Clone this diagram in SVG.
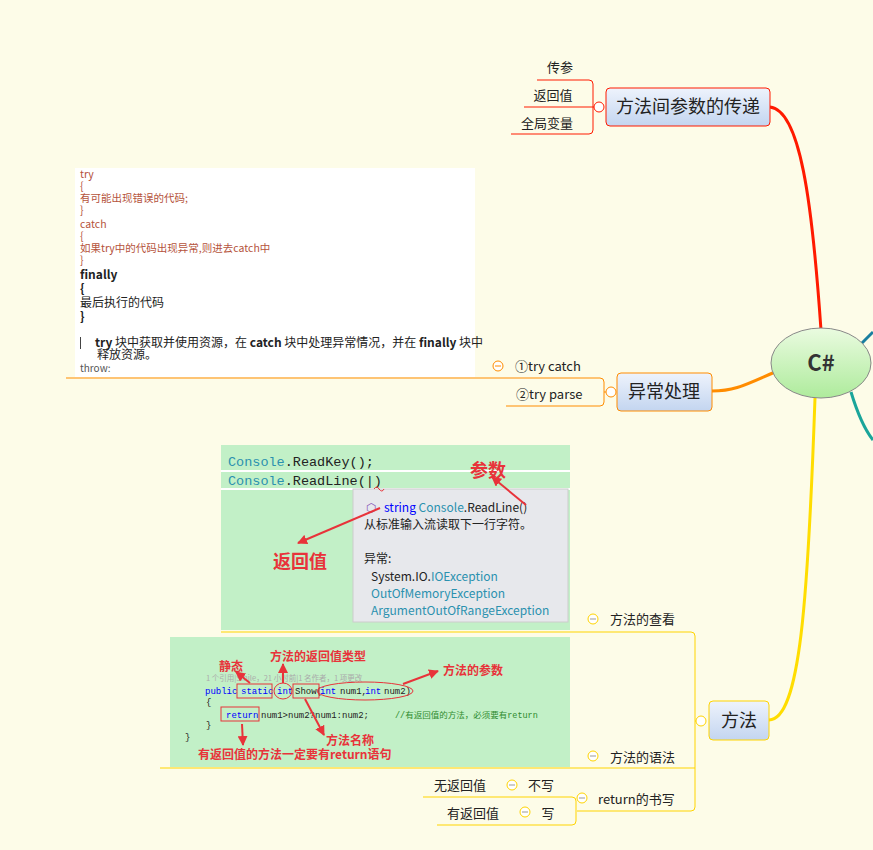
<svg xmlns="http://www.w3.org/2000/svg" width="873" height="850" viewBox="0 0 873 850">
<defs>
<linearGradient id="gb" x1="0" y1="0" x2="0" y2="1"><stop offset="0" stop-color="#eef3fc"/><stop offset="1" stop-color="#c3d5f0"/></linearGradient>
<linearGradient id="gg" x1="0" y1="0" x2="0" y2="1"><stop offset="0" stop-color="#eafbe0"/><stop offset="1" stop-color="#aeeb9c"/></linearGradient>
<marker id="ar" viewBox="0 0 10 10" refX="9" refY="5" markerWidth="5" markerHeight="5" orient="auto"><path d="M0,0L10,5L0,10z" fill="#e8333a"/></marker>
<style>
text{font-family:"Noto Sans CJK SC","Liberation Sans",sans-serif;fill:#222}
.s{font-size:13px}
.m{font-size:18px}
.mono{font-family:"Liberation Mono","Noto Sans CJK SC",monospace}
.c{font-family:"Liberation Mono",monospace;font-size:9px}
.k{fill:#0000ff}
.red{fill:#e8333a;font-weight:bold}
.ra{stroke:#e8333a;stroke-width:2;fill:none;marker-end:url(#ar)}
.tc{font-size:10.5px;fill:#b5533c}
</style>
</defs>
<rect width="873" height="850" fill="#fdfce8"/>
<g id="connectors" fill="none">
<path d="M821,330 C812,200 800,110 770,107" stroke="#ff1a00" stroke-width="3"/>
<path d="M775,372 C745,385 735,391 712,391" stroke="#ff8c00" stroke-width="3"/>
<path d="M815,398 C808,600 800,720 769,720" stroke="#ffdd00" stroke-width="3"/>
<path d="M860,345 L873,332" stroke="#1a7fa0" stroke-width="3"/>
<path d="M851,392 C858,415 865,430 873,440" stroke="#1aa59a" stroke-width="3"/>
<path d="M537,80 H589 Q593,80 593,84 V130 Q593,134 589,134 H511 M524,107 H594" stroke="#ff1a00"/>
<path d="M66,378 H600 Q604,378 604,382 V402 Q604,406 600,406 H506 M604,392 H606" stroke="#ff8c00"/>
<path d="M221,632 H691 Q695,632 695,636 V807 Q695,811 691,811 H577 M160,768 H695 M695,721 H696" stroke="#ffd400"/>
<path d="M423,797 H572 Q576,797 576,801 V821 Q576,825 572,825 H437" stroke="#ffd400"/>
</g>
<g id="n-csharp"><ellipse cx="821" cy="363" rx="50" ry="35" fill="url(#gg)" stroke="#888"/><text x="821" y="371" text-anchor="middle" font-size="22" font-weight="bold" style="fill:#333">C#</text></g>
<g id="n-param"><rect x="606" y="88" width="164" height="38" rx="4" fill="url(#gb)" stroke="#ff1a00"/><text x="688" y="113" text-anchor="middle" class="m">方法间参数的传递</text>
<circle cx="599" cy="107" r="5" fill="#fff" stroke="#ff1a00"/>
<text x="560" y="72" text-anchor="middle" class="s">传参</text><text x="553" y="100" text-anchor="middle" class="s">返回值</text><text x="547" y="128" text-anchor="middle" class="s">全局变量</text></g>
<g id="n-exc"><rect x="617" y="373" width="95" height="38" rx="4" fill="url(#gb)" stroke="#ff8c00"/><text x="664" y="398" text-anchor="middle" class="m">异常处理</text>
<circle cx="611" cy="392" r="5" fill="#fff" stroke="#ff8c00"/>
<circle cx="498" cy="366" r="5" fill="#fff" stroke="#ff8c00"/><line x1="495" y1="366" x2="501" y2="366" stroke="#ff8c00"/>
<text x="515" y="371" class="s">①try catch</text><text x="516" y="399" class="s">②try parse</text></g>
<g id="img-try"><rect x="75" y="168" width="400" height="209" fill="#fff"/>
<text x="80" y="178" class="tc">try</text><text x="80" y="190" class="tc">{</text><text x="80" y="202" class="tc">有可能出现错误的代码;</text><text x="80" y="214" class="tc">}</text><text x="80" y="228" class="tc">catch</text><text x="80" y="240" class="tc">{</text><text x="80" y="252" class="tc">如果try中的代码出现异常,则进去catch中</text><text x="80" y="264" class="tc">}</text>
<text x="80" y="279" font-size="12" font-weight="bold">finally</text><text x="80" y="293" font-size="12" font-weight="bold">{</text><text x="80" y="307" font-size="12">最后执行的代码</text><text x="80" y="321" font-size="12" font-weight="bold">}</text>
<rect x="80" y="337" width="1" height="12" fill="#444"/>
<text x="95" y="347" font-size="12"><tspan font-weight="bold">try</tspan> 块中获取并使用资源，在 <tspan font-weight="bold">catch</tspan> 块中处理异常情况，并在 <tspan font-weight="bold">finally</tspan> 块中</text>
<text x="97" y="359" font-size="12">释放资源。</text><text x="80" y="372" font-size="10" style="fill:#555">throw:</text></g>
<g id="n-method"><rect x="709" y="701" width="60" height="39" rx="4" fill="url(#gb)" stroke="#ffd400"/><text x="739" y="727" text-anchor="middle" class="m">方法</text>
<circle cx="701" cy="721" r="5" fill="#fff" stroke="#ffd400"/>
<circle cx="593" cy="619" r="5" fill="#fff" stroke="#ffd400"/><line x1="590" y1="619" x2="596" y2="619" stroke="#999"/><text x="610" y="624" class="s">方法的查看</text>
<circle cx="593" cy="756" r="5" fill="#fff" stroke="#ffd400"/><line x1="590" y1="756" x2="596" y2="756" stroke="#999"/><text x="610" y="762" class="s">方法的语法</text>
<circle cx="582" cy="798" r="5" fill="#fff" stroke="#ffd400"/><line x1="579" y1="798" x2="585" y2="798" stroke="#999"/><text x="598" y="804" class="s">return的书写</text>
<text x="460" y="790" text-anchor="middle" class="s">无返回值</text><circle cx="512" cy="785" r="5" fill="#fff" stroke="#ffd400"/><line x1="509" y1="785" x2="515" y2="785" stroke="#999"/><text x="541" y="790" text-anchor="middle" class="s">不写</text>
<text x="473" y="818" text-anchor="middle" class="s">有返回值</text><circle cx="525" cy="812" r="5" fill="#fff" stroke="#ffd400"/><line x1="522" y1="812" x2="528" y2="812" stroke="#999"/><text x="548" y="818" text-anchor="middle" class="s">写</text></g>
<g id="img-console"><rect x="221" y="445" width="349" height="185" fill="#c2f0c7"/>
<rect x="221" y="470" width="349" height="2" fill="#fff"/><rect x="221" y="488" width="349" height="2" fill="#fff"/>
<text x="228" y="466" class="mono" font-size="13.5" style="fill:#2b91af">Console<tspan style="fill:#222">.ReadKey();</tspan></text>
<text x="228" y="485" class="mono" font-size="13.5" style="fill:#2b91af">Console<tspan style="fill:#222">.ReadLine(|)</tspan></text>
<rect x="353" y="489" width="215" height="133" fill="#e7e8ec" stroke="#ccc"/>
<text x="366" y="512" font-size="12" style="fill:#8a58b8">⬡</text>
<text x="384" y="512" font-size="12" style="fill:#0000ff">string <tspan style="fill:#2b91af">Console</tspan><tspan style="fill:#222">.ReadLine()</tspan></text>
<text x="364" y="529" font-size="12">从标准输入流读取下一行字符。</text>
<text x="364" y="563" font-size="12">异常:</text>
<text x="371" y="581" font-size="12">System.IO.<tspan style="fill:#2b91af">IOException</tspan></text>
<text x="371" y="598" font-size="12" style="fill:#2b91af">OutOfMemoryException</text>
<text x="371" y="615" font-size="12" style="fill:#2b91af">ArgumentOutOfRangeException</text>
<path d="M374,489 q3,-4 5,0 q3,4 5,0" stroke="#e8333a" fill="none"/>
<text x="488" y="477" text-anchor="middle" font-size="18" class="red">参数</text>
<path d="M526,505 L492,477" class="ra"/>
<text x="300" y="568" text-anchor="middle" font-size="18" class="red">返回值</text>
<path d="M380,508 L298,543" class="ra"/></g>
<g id="img-syntax"><rect x="170" y="637" width="400" height="130" fill="#c2f0c7"/>
<text x="206" y="681" font-size="7.5" style="fill:#aaa">1 个引用|Smile，21 小时前|1 名作者，1 项更改</text>
<text x="205" y="694" class="c k">public</text><text x="241" y="694" class="c k">static</text><text x="277" y="694" class="c k">int</text><text x="295" y="694" class="c">Show(</text><text x="320" y="694" class="c k">int</text><text x="340" y="694" class="c">num1,</text><text x="365" y="694" class="c k">int</text><text x="384" y="694" class="c">num2)</text>
<text x="206" y="705" class="c">{</text>
<text x="226" y="718" class="c k">return</text><text x="261" y="718" class="c">num1&gt;num2?num1:num2;</text>
<text x="395" y="718" font-size="8.5" class="mono" style="fill:#2e8b2e">//有返回值的方法，必须要有return</text>
<text x="206" y="728" class="c">}</text><text x="185" y="740" class="c">}</text>
<g fill="none" stroke="#e8333a"><rect x="237" y="684" width="35" height="14"/><rect x="293" y="684" width="26" height="14"/><rect x="221" y="707" width="38" height="14"/><ellipse cx="283" cy="691" rx="9" ry="8"/><ellipse cx="365" cy="691" rx="48" ry="9"/></g>
<text x="219" y="671" font-size="12" class="red">静态</text><path d="M250,683 L236,672" class="ra"/>
<text x="270" y="661" font-size="12" class="red">方法的返回值类型</text><path d="M283,683 L283,664" class="ra"/>
<text x="443" y="675" font-size="12" class="red">方法的参数</text><path d="M403,684 L438,671" class="ra"/>
<path d="M305,699 L324,735" class="ra"/><text x="326" y="745" font-size="12" class="red">方法名称</text>
<path d="M242,724 L243,745" class="ra"/><text x="198" y="759" font-size="12" class="red">有返回值的方法一定要有return语句</text></g>
</svg>
